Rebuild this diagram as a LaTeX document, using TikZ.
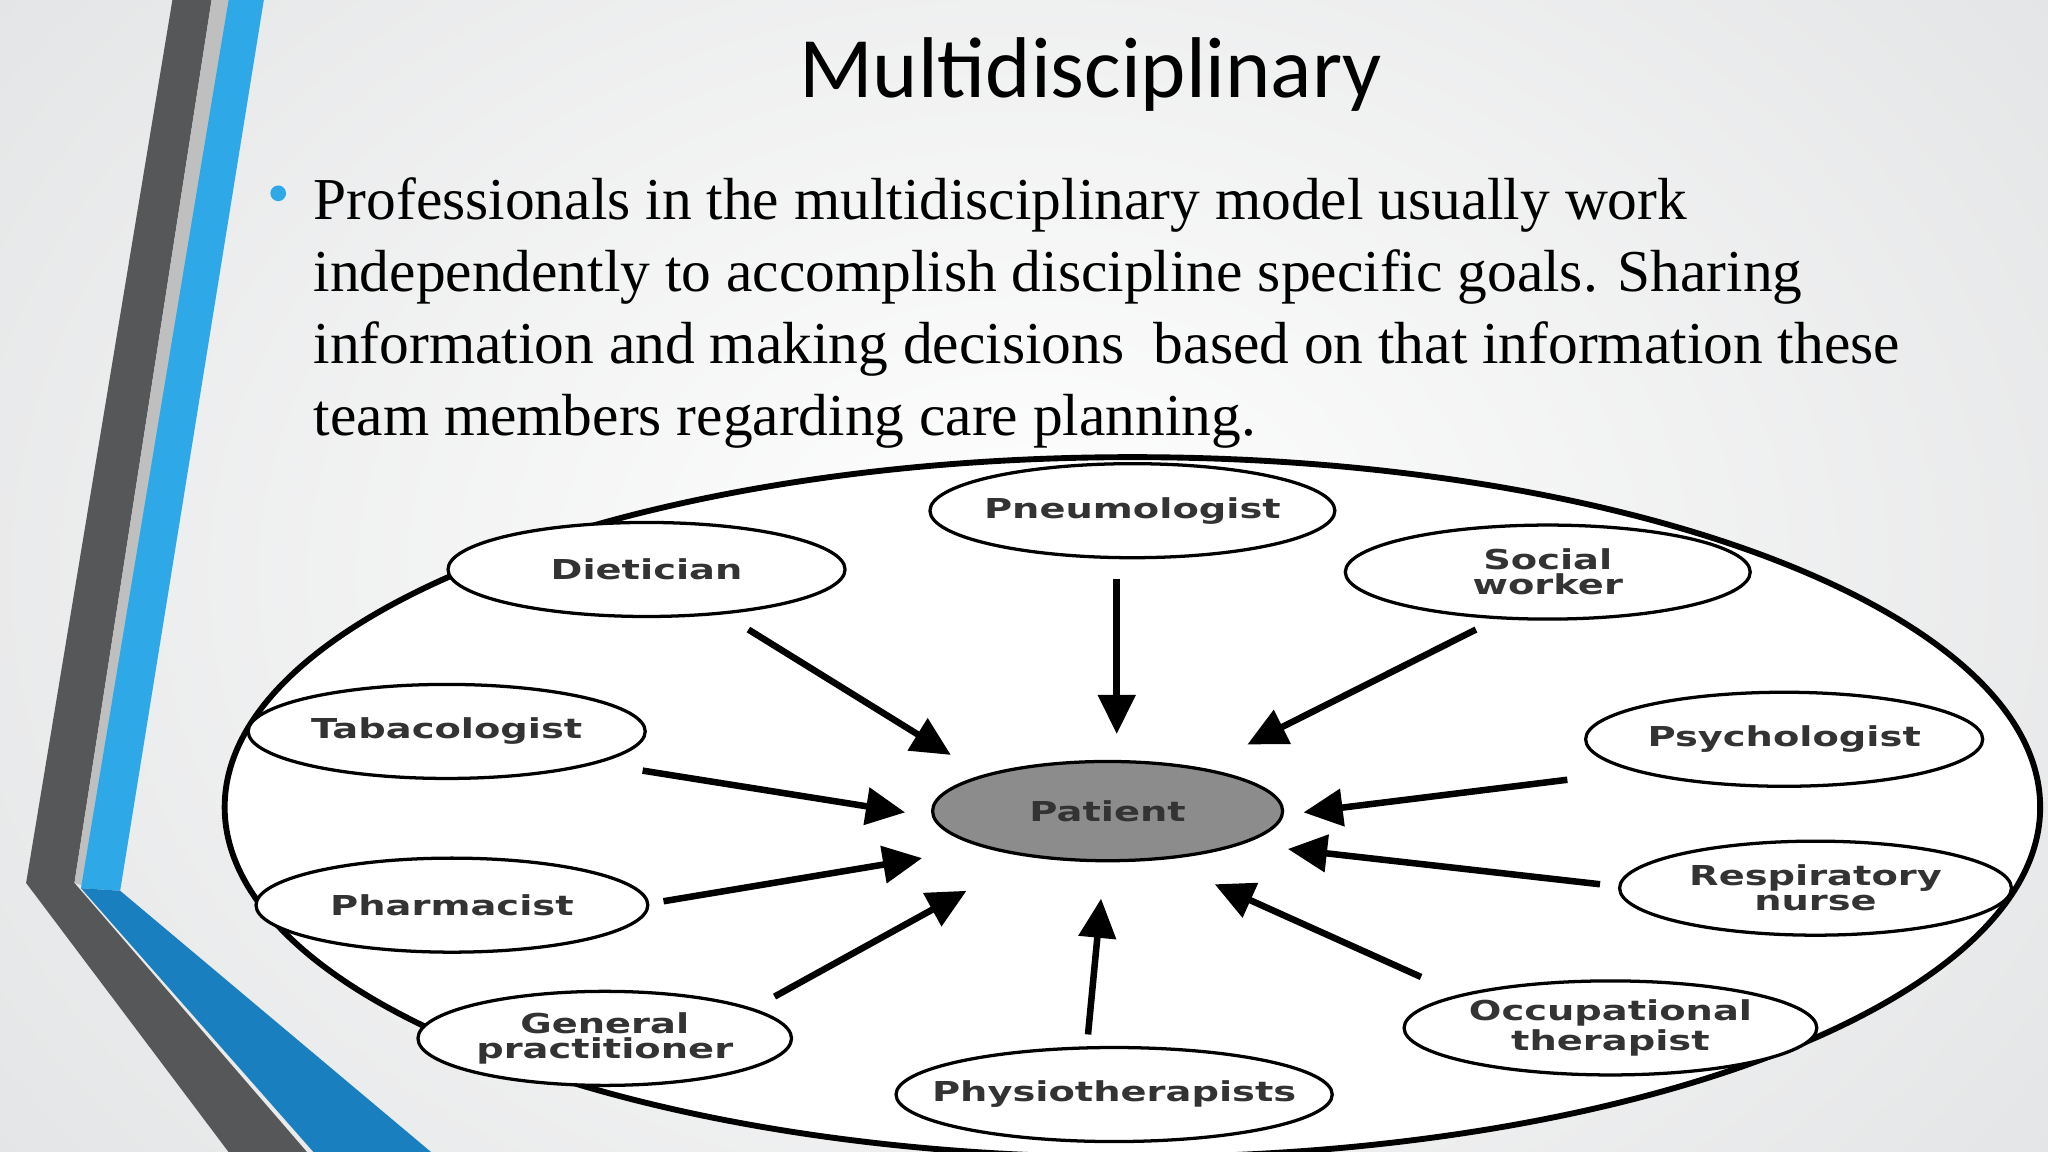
\documentclass[tikz,border=0pt]{standalone}
\usepackage{fontspec}
\setmainfont{Liberation Serif}
\newfontfamily\titlefont{Carlito}
\newfontfamily\labfont{DejaVu Sans}
\usetikzlibrary{shapes.geometric,arrows.meta}
\definecolor{bgc}{HTML}{E4E5E6}
\definecolor{blu}{HTML}{2EA8E6}
\definecolor{dblu}{HTML}{1A7FBF}
\definecolor{dgr}{HTML}{555759}
\newcommand{\lab}[1]{\makebox[0pt]{\scalebox{1.4}[1]{\shortstack{#1}}}}
\begin{document}
\begin{tikzpicture}[x=1pt,y=-1pt,
  prof/.style={ellipse,draw=black,line width=2.5pt,fill=white,minimum width=300pt,minimum height=72pt,inner sep=0pt,
    font=\labfont\bfseries\fontsize{21}{23}\selectfont,align=center,text=black!80},
  arr/.style={line width=5pt,-{Triangle[length=30pt,width=28pt]}}]
\clip (0,0) rectangle (1568,882);
\shade[inner color=white,outer color=bgc] (-200,-300) rectangle (1768,1182);
% title and text
\node[font=\titlefont\fontsize{66}{66}\selectfont] (title) at (835,57) {Multidisciplinary};
\fill[blu] (213,148) circle (6pt);
\node[anchor=north west,align=left,font=\fontsize{45.5}{55}\selectfont,inner sep=0pt] (body) at (240,136)
{Professionals in the multidisciplinary model usually work\\
independently to accomplish discipline specific goals. Sharing\\
information and making decisions\ \ based on that information these\\
team members regarding care planning.};
% big ellipse
\draw[line width=4.5pt,fill=white] (867,618) ellipse (695pt and 268pt);
% nodes
\node[prof,minimum width=268pt,minimum height=76pt,fill=black!45,line width=2.5pt] (pat) at (848,621) {\lab{Patient}};
\node[prof,minimum width=310pt] (pn) at (867,391) {\lab{Pneumologist}};
\node[prof,minimum width=304pt] (di) at (495,436) {\lab{Dietician}};
\node[prof,minimum width=310pt] (so) at (1185,438) {\lab{Social\\worker}};
\node[prof,minimum width=304pt] (ta) at (342,560) {\lab{Tabacologist}};
\node[prof,minimum width=304pt] (ps) at (1366,566) {\lab{Psychologist}};
\node[prof] (ph) at (346,693) {\lab{Pharmacist}};
\node[prof] (rn) at (1390,680) {\lab{Respiratory\\nurse}};
\node[prof,minimum width=286pt] (gp) at (463,795) {\lab{General\\practitioner}};
\node[prof,minimum width=316pt] (ot) at (1233,787) {\lab{Occupational\\therapist}};
\node[prof,minimum width=334pt] (py) at (853,838) {\lab{Physiotherapists}};
% arrow endpoints
\coordinate (a1) at (855,443); \coordinate (b1) at (855,562);
\coordinate (a2) at (573,482); \coordinate (b2) at (728,578);
\coordinate (a3) at (1130,482); \coordinate (b3) at (955,570);
\coordinate (a4) at (492,590); \coordinate (b4) at (693,622);
\coordinate (a5) at (1200,597); \coordinate (b5) at (998,622);
\coordinate (a6) at (508,690); \coordinate (b6) at (706,657);
\coordinate (a7) at (1225,677); \coordinate (b7) at (986,650);
\coordinate (a8) at (593,763); \coordinate (b8) at (740,682);
\coordinate (a9) at (1088,748); \coordinate (b9) at (930,677);
\coordinate (a10) at (833,792); \coordinate (b10) at (843,688);
\foreach \i in {1,...,10} {\draw[arr] (a\i) -- (b\i);}
% left decoration
\fill[dgr] (132,0) -- (162,0) -- (57,676) -- (20,676) -- cycle;
\fill[dgr] (20,676) -- (57,676) -- (235,882) -- (175,882) -- cycle;
\fill[black!25] (162,0) -- (175,0) -- (70,680) -- (57,676) -- cycle;
\fill[blu] (175,0) -- (202,0) -- (92,682) -- (62,680) -- cycle;
\fill[dblu] (62,680) -- (92,682) -- (330,882) -- (240,882) -- cycle;
\end{tikzpicture}
\end{document}
